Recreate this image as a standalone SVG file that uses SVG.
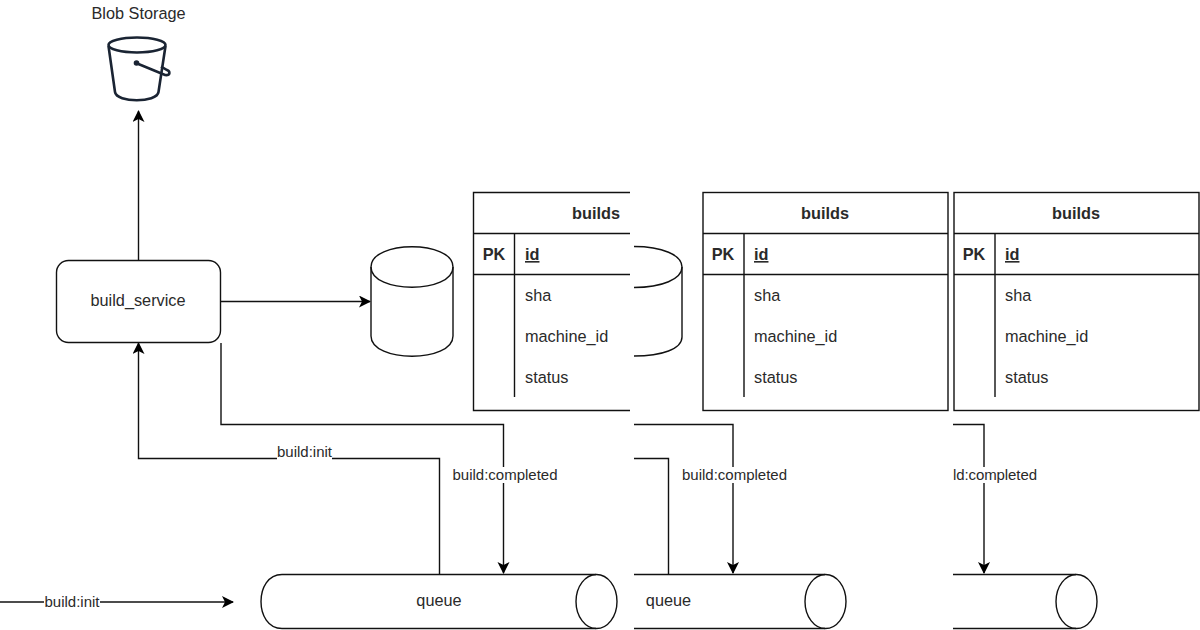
<svg xmlns="http://www.w3.org/2000/svg" width="1200" height="630" viewBox="0 0 1200 630">
<style>
.l{fill:none;stroke:#111;stroke-width:1.4}
.s{fill:#fff;stroke:#111;stroke-width:1.4}
.k{fill:none;stroke:#1a2433;stroke-width:2.600}
text{font-family:"Liberation Sans",Arial,sans-serif;font-size:16.300px;fill:#2a2a2a}
.e{font-size:15px}
.m{text-anchor:middle}
.b{font-weight:bold}
.bg{fill:#fff;stroke:none}
</style>
<defs>
<marker id="a" markerUnits="userSpaceOnUse" markerWidth="14" markerHeight="14" refX="11" refY="6" orient="auto"><path d="M0 0L12 6L0 12L3 6Z" fill="#000"/></marker>
</defs>
<rect width="1200" height="630" fill="#fff"/>
<g id="connectors">
<path class="l" d="M138.500 260V111" marker-end="url(#a)"/>
<path class="l" d="M221 301.500H370" marker-end="url(#a)"/>
<path class="l" d="M221 343V424.500H503.500V573" marker-end="url(#a)"/>
<path class="l" d="M439.500 574V458.500H138.500V343" marker-end="url(#a)"/>
<path class="l" d="M634 424.500H733V573" marker-end="url(#a)"/>
<path class="l" d="M634 458.500H668.500V574"/>
<path class="l" d="M953 424.500H984V573" marker-end="url(#a)"/>
<path class="l" d="M0 602H233" marker-end="url(#a)"/>
<g id="edge-labels">
<rect class="bg" x="277" y="445" width="55" height="15"/><text class="m e" x="304.500" y="457">build:init</text>
<rect class="bg" x="452" y="467" width="106" height="16"/><text class="m e" x="505" y="480">build:completed</text>
<rect class="bg" x="682" y="467" width="105" height="16"/><text class="m e" x="734.500" y="480">build:completed</text>
<rect class="bg" x="953" y="467" width="85" height="16"/><text class="e" x="953" y="480" textLength="84">ld:completed</text>
<rect class="bg" x="44" y="595" width="56" height="15"/><text class="m e" x="72" y="607">build:init</text>
</g>
</g>
<g id="blob-storage">
<ellipse class="k" cx="137" cy="45" rx="28.500" ry="7.500"/>
<path class="k" d="M108.500 46L115 92C116.500 103 157 103 158.500 92L165.500 46"/>
<path class="k" d="M136 63L165 75C171 76 170 71 167 70L161 66.500"/>
<circle cx="136.500" cy="63" r="2.800" fill="#1a2433"/>
<text class="m" x="138.500" y="19">Blob Storage</text>
</g>
<g id="build-service">
<rect class="s" x="56.500" y="260.500" width="164" height="82" rx="12"/>
<text class="m" x="138" y="306">build_service</text>
</g>
<g id="database-1">
<path class="s" d="M371 267C371 240 453 240 453 267V336C453 363 371 363 371 336Z"/>
<path class="l" d="M371 267C371 294 453 294 453 267"/>
</g>
<g id="database-2">
<path class="l" d="M634 246.500C662 246.500 682 255 682 267V337C682 349 662 356 634 356"/>
<path class="l" d="M634 287.500C662 287.500 682 279 682 267"/>
</g>
<g id="table-1">
<path class="l" d="M630 192.500H473.500V410.500H630M473.500 233.500H630M473.500 274.500H630M514.500 233.500V397"/>
<text class="b" x="572" y="219">builds</text>
<text class="b m" x="494" y="260">PK</text>
<text class="b" x="525" y="260" text-decoration="underline">id</text>
<text x="525" y="301">sha</text><text x="525" y="342">machine_id</text><text x="525" y="383">status</text>
</g>
<g id="table-2">
<rect class="l" x="703" y="192.500" width="245" height="218"/>
<path class="l" d="M703 233.500H948M703 274.500H948M744 233.500V397"/>
<text class="b m" x="825" y="219">builds</text>
<text class="b m" x="723" y="260">PK</text>
<text class="b" x="754" y="260" text-decoration="underline">id</text>
<text x="754" y="301">sha</text><text x="754" y="342">machine_id</text><text x="754" y="383">status</text>
</g>
<g id="table-3">
<rect class="l" x="954" y="192.500" width="245" height="218"/>
<path class="l" d="M954 233.500H1199M954 274.500H1199M995 233.500V397"/>
<text class="b m" x="1076" y="219">builds</text>
<text class="b m" x="974" y="260">PK</text>
<text class="b" x="1005" y="260" text-decoration="underline">id</text>
<text x="1005" y="301">sha</text><text x="1005" y="342">machine_id</text><text x="1005" y="383">status</text>
</g>
<g id="queue-1">
<path class="l" d="M596 574.500H282C254 574.500 254 628.500 282 628.500H596"/>
<ellipse class="l" cx="596.500" cy="601.500" rx="20.500" ry="27"/>
<text class="m" x="439" y="606">queue</text>
</g>
<g id="queue-2">
<path class="l" d="M825 574.500H634M634 628.500H825"/>
<ellipse class="l" cx="825.500" cy="601.500" rx="20.500" ry="27"/>
<text class="m" x="668.500" y="606">queue</text>
</g>
<g id="queue-3">
<path class="l" d="M1076 574.500H953M953 628.500H1076"/>
<ellipse class="l" cx="1076.500" cy="601.500" rx="20.500" ry="27"/>
</g>
</svg>
